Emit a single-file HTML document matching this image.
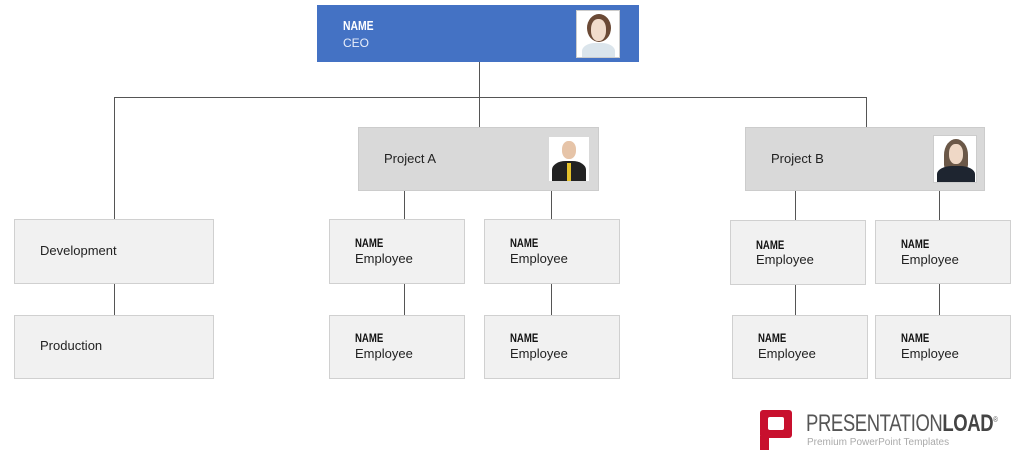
<!DOCTYPE html>
<html><head><style>
body{margin:0;width:1024px;height:462px;background:#fff;position:relative;overflow:hidden;font-family:"Liberation Sans",sans-serif}
div{position:absolute;box-sizing:border-box}
.l{background:#555}
.e{background:#f1f1f1;border:1px solid #d0d0d0}
.p{background:#d9d9d9;border:1px solid #ccc}
.n{font-family:"Liberation Sans Narrow","Liberation Sans",sans-serif;font-weight:bold;font-size:12px;color:#111;transform:scaleX(.8);transform-origin:left}
.t{font-size:13px;color:#222}
</style></head><body>
<div class="l" style="left:479px;top:61px;width:1px;height:66px"></div>
<div class="l" style="left:114px;top:97px;width:753px;height:1px"></div>
<div class="l" style="left:114px;top:97px;width:1px;height:122px"></div>
<div class="l" style="left:866px;top:97px;width:1px;height:30px"></div>
<div class="l" style="left:114px;top:283px;width:1px;height:32px"></div>
<div class="l" style="left:404px;top:190px;width:1px;height:125px"></div>
<div class="l" style="left:551px;top:190px;width:1px;height:125px"></div>
<div class="l" style="left:795px;top:190px;width:1px;height:125px"></div>
<div class="l" style="left:939px;top:190px;width:1px;height:125px"></div>

<div style="left:317px;top:5px;width:322px;height:57px;background:#4472c4"></div>
<div class="n" style="left:343px;top:18px;color:#fff;font-size:13px">NAME</div>
<div style="left:343px;top:36px;color:#e8eefa;font-size:12px">CEO</div>
<div style="left:576px;top:10px;width:44px;height:48px;background:#fff;border:1px solid #ccc;overflow:hidden">
<div style="left:10px;top:3px;width:24px;height:28px;border-radius:50%;background:#6b4a36"></div>
<div style="left:14px;top:8px;width:15px;height:22px;border-radius:45%;background:#f1dccc"></div>
<div style="left:5px;top:32px;width:33px;height:20px;border-radius:40% 40% 0 0;background:#dbe5ec"></div></div>

<div class="p" style="left:358px;top:127px;width:241px;height:64px"></div>
<div class="t" style="left:384px;top:151px">Project A</div>
<div style="left:549px;top:137px;width:40px;height:44px;background:#fff;overflow:hidden">
<div style="left:13px;top:4px;width:14px;height:18px;border-radius:45%;background:#e6c4a8"></div>
<div style="left:3px;top:24px;width:34px;height:22px;border-radius:40% 40% 0 0;background:#222"></div>
<div style="left:18px;top:26px;width:4px;height:18px;background:#e5c22c"></div></div>

<div class="p" style="left:745px;top:127px;width:240px;height:64px"></div>
<div class="t" style="left:771px;top:151px">Project B</div>
<div style="left:933px;top:135px;width:44px;height:48px;background:#fff;border:1px solid #ccc;overflow:hidden">
<div style="left:10px;top:3px;width:24px;height:32px;border-radius:50% 50% 20% 20%;background:#6b5848"></div>
<div style="left:15px;top:8px;width:14px;height:20px;border-radius:45%;background:#efd8c6"></div>
<div style="left:3px;top:30px;width:38px;height:20px;border-radius:40% 40% 0 0;background:#1e2530"></div></div>

<div class="e" style="left:14px;top:219px;width:200px;height:65px"></div>
<div class="t" style="left:40px;top:243px">Development</div>
<div class="e" style="left:14px;top:315px;width:200px;height:64px"></div>
<div class="t" style="left:40px;top:338px">Production</div>

<div class="e" style="left:329px;top:219px;width:136px;height:65px"></div>
<div class="n" style="left:355px;top:236px">NAME</div><div class="t" style="left:355px;top:251px">Employee</div>
<div class="e" style="left:484px;top:219px;width:136px;height:65px"></div>
<div class="n" style="left:510px;top:236px">NAME</div><div class="t" style="left:510px;top:251px">Employee</div>
<div class="e" style="left:329px;top:315px;width:136px;height:64px"></div>
<div class="n" style="left:355px;top:331px">NAME</div><div class="t" style="left:355px;top:346px">Employee</div>
<div class="e" style="left:484px;top:315px;width:136px;height:64px"></div>
<div class="n" style="left:510px;top:331px">NAME</div><div class="t" style="left:510px;top:346px">Employee</div>

<div class="e" style="left:730px;top:220px;width:136px;height:65px"></div>
<div class="n" style="left:756px;top:238px">NAME</div><div class="t" style="left:756px;top:252px">Employee</div>
<div class="e" style="left:875px;top:220px;width:136px;height:64px"></div>
<div class="n" style="left:901px;top:237px">NAME</div><div class="t" style="left:901px;top:252px">Employee</div>
<div class="e" style="left:732px;top:315px;width:136px;height:64px"></div>
<div class="n" style="left:758px;top:331px">NAME</div><div class="t" style="left:758px;top:346px">Employee</div>
<div class="e" style="left:875px;top:315px;width:136px;height:64px"></div>
<div class="n" style="left:901px;top:331px">NAME</div><div class="t" style="left:901px;top:346px">Employee</div>

<div style="left:760px;top:410px;width:32px;height:28px;background:#c8102e;border-radius:3px"></div>
<div style="left:768px;top:417px;width:16px;height:13px;background:#fff;border-radius:2px"></div>
<div style="left:760px;top:436px;width:9px;height:14px;background:#c8102e"></div>
<div style="left:806px;top:410px;font-size:24px;color:#555;letter-spacing:-0.5px;transform:scaleX(.77);transform-origin:left;white-space:nowrap">PRESENTATION<b style="color:#444">LOAD</b><sup style="font-size:8px">®</sup></div>
<div style="left:807px;top:437px;font-size:10px;color:#aaa;white-space:nowrap">Premium PowerPoint Templates</div>
</body></html>
